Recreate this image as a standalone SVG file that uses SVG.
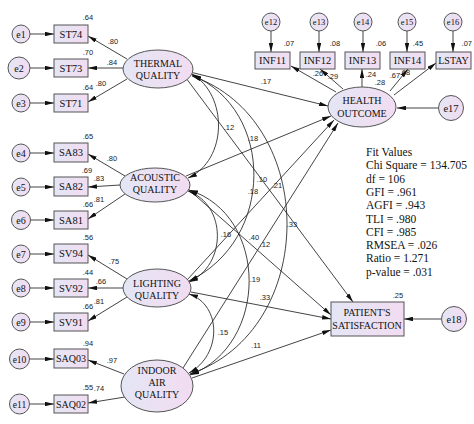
<svg xmlns="http://www.w3.org/2000/svg" width="474" height="424" viewBox="0 0 474 424">
<defs>
<linearGradient id="g" x1="0" y1="0" x2="1" y2="0">
<stop offset="0" stop-color="#e4e6f5"/>
<stop offset="1" stop-color="#f2dcf1"/>
</linearGradient>
<marker id="ah" viewBox="0 0 10 5" refX="10" refY="2.5" markerWidth="9" markerHeight="4.5" markerUnits="userSpaceOnUse" orient="auto-start-reverse">
<path d="M0,0 L10,2.5 L0,5 z" fill="#111"/>
</marker>
</defs>
<style>
.sh{fill:url(#g);stroke:#555;stroke-width:1}
.ln{fill:none;stroke:#222;stroke-width:0.85;marker-end:url(#ah)}
.cv{fill:none;stroke:#222;stroke-width:0.85;marker-start:url(#ah);marker-end:url(#ah)}
.t{font-family:"Liberation Serif","Times New Roman",serif;font-size:10px;fill:#111;text-anchor:middle}
.r{font-family:"Liberation Serif","Times New Roman",serif;font-size:10.5px;fill:#111;text-anchor:middle}
.e{font-family:"Liberation Serif","Times New Roman",serif;font-size:10px;fill:#111;text-anchor:middle}
.n{font-family:"Liberation Sans",Arial,sans-serif;font-size:7.5px;fill:#222;text-anchor:middle}
.f{font-family:"Liberation Serif","Times New Roman",serif;font-size:11.5px;fill:#111}
</style>
<rect width="474" height="424" fill="#fff"/>

<g id="connectors">
<path class="ln" d="M30,34 L54,34"/>
<path class="ln" d="M30,68 L54,68"/>
<path class="ln" d="M30,103 L54,103"/>
<path class="ln" d="M30,153 L54,153"/>
<path class="ln" d="M30,187 L54,187"/>
<path class="ln" d="M30,220 L54,220"/>
<path class="ln" d="M30,254 L54,254"/>
<path class="ln" d="M30,288 L54,288"/>
<path class="ln" d="M30,322 L54,322"/>
<path class="ln" d="M30,359 L54,359"/>
<path class="ln" d="M30,404 L54,404"/>
<path class="ln" d="M271,31 L271,52"/>
<path class="ln" d="M319,31 L319,52"/>
<path class="ln" d="M363,31 L363,52"/>
<path class="ln" d="M407,31 L407,52"/>
<path class="ln" d="M453,31 L453,52"/>
<path class="ln" d="M438,108 L397,108"/>
<path class="ln" d="M441,319 L404,319"/>
<path class="ln" d="M127,59 L88,36"/>
<path class="ln" d="M123,68 L88,68"/>
<path class="ln" d="M127,79 L88,102"/>
<path class="ln" d="M125,176 L88,154"/>
<path class="ln" d="M120,185 L88,187"/>
<path class="ln" d="M125,194 L88,219"/>
<path class="ln" d="M127,279 L88,255"/>
<path class="ln" d="M123,288 L88,288"/>
<path class="ln" d="M127,297 L88,321"/>
<path class="ln" d="M124,374 L88,360"/>
<path class="ln" d="M125,397 L88,403"/>
<path class="ln" d="M336,92 L291,66"/>
<path class="ln" d="M343,89 L320,69"/>
<path class="ln" d="M362,87 L362,69"/>
<path class="ln" d="M390,91 L408,69"/>
<path class="ln" d="M394,95 L436,63"/>
<path class="ln" d="M190,72 L328,106"/>
<path class="ln" d="M186,78 L353,302"/>
<path class="ln" d="M186,176 L331,116"/>
<path class="ln" d="M188,189 L331,315"/>
<path class="ln" d="M187,280 L334,120"/>
<path class="ln" d="M191,292 L331,319"/>
<path class="ln" d="M183,368 L338,123"/>
<path class="ln" d="M192,378 L331,330"/>
<path class="cv" d="M192,74 C228,95 228,160 188,178"/>
<path class="cv" d="M192,75 C275,110 275,240 189,281"/>
<path class="cv" d="M192,76 C319,120 319,330 190,374"/>
<path class="cv" d="M188,191 C227,205 227,265 189,282"/>
<path class="cv" d="M189,190 C269,215 269,345 190,375"/>
<path class="cv" d="M189,294 C222,305 222,355 189,373"/>
</g>

<g id="e1"><circle class="sh" cx="21" cy="34" r="9"/><text class="e" x="21" y="37.5">e1</text></g>
<g id="e2"><circle class="sh" cx="19" cy="68" r="11"/><text class="e" x="19" y="71.5">e2</text></g>
<g id="e3"><circle class="sh" cx="21" cy="103" r="9"/><text class="e" x="21" y="106.5">e3</text></g>
<g id="e4"><circle class="sh" cx="21" cy="153" r="9"/><text class="e" x="21" y="156.5">e4</text></g>
<g id="e5"><circle class="sh" cx="21" cy="187" r="9"/><text class="e" x="21" y="190.5">e5</text></g>
<g id="e6"><circle class="sh" cx="21" cy="220" r="9.5"/><text class="e" x="21" y="223.5">e6</text></g>
<g id="e7"><circle class="sh" cx="21" cy="254" r="9"/><text class="e" x="21" y="257.5">e7</text></g>
<g id="e8"><circle class="sh" cx="21" cy="288" r="9"/><text class="e" x="21" y="291.5">e8</text></g>
<g id="e9"><circle class="sh" cx="21" cy="322" r="9"/><text class="e" x="21" y="325.5">e9</text></g>
<g id="e10"><circle class="sh" cx="19.5" cy="359" r="10"/><text class="e" x="19.5" y="362.5" style="font-size:9.5px">e10</text></g>
<g id="e11"><circle class="sh" cx="19.5" cy="404" r="10"/><text class="e" x="19.5" y="407.5" style="font-size:9.5px">e11</text></g>
<g id="e12"><circle class="sh" cx="271" cy="22" r="9"/><text class="e" x="271" y="25" style="font-size:8.5px">e12</text></g>
<g id="e13"><circle class="sh" cx="319" cy="22" r="9"/><text class="e" x="319" y="25" style="font-size:8.5px">e13</text></g>
<g id="e14"><circle class="sh" cx="363" cy="22" r="9"/><text class="e" x="363" y="25" style="font-size:8.5px">e14</text></g>
<g id="e15"><circle class="sh" cx="407" cy="22" r="9"/><text class="e" x="407" y="25" style="font-size:8.5px">e15</text></g>
<g id="e16"><circle class="sh" cx="453" cy="22" r="9"/><text class="e" x="453" y="25" style="font-size:8.5px">e16</text></g>
<g id="e17"><circle class="sh" cx="451" cy="108" r="12.5"/><text class="e" x="451" y="111.5" style="font-size:10.5px">e17</text></g>
<g id="e18"><circle class="sh" cx="454" cy="319" r="12.5"/><text class="e" x="454" y="322.5" style="font-size:10.5px">e18</text></g>

<g id="ST74"><rect class="sh" x="54" y="25" width="34" height="18"/><text class="r" x="71" y="37.5">ST74</text></g>
<g id="ST73"><rect class="sh" x="54" y="59" width="34" height="18"/><text class="r" x="71" y="71.5">ST73</text></g>
<g id="ST71"><rect class="sh" x="54" y="94" width="34" height="18"/><text class="r" x="71" y="106.5">ST71</text></g>
<g id="SA83"><rect class="sh" x="54" y="143" width="34" height="19"/><text class="r" x="71" y="156">SA83</text></g>
<g id="SA82"><rect class="sh" x="54" y="177" width="34" height="19"/><text class="r" x="71" y="190">SA82</text></g>
<g id="SA81"><rect class="sh" x="54" y="211" width="34" height="18"/><text class="r" x="71" y="223.5">SA81</text></g>
<g id="SV94"><rect class="sh" x="54" y="244" width="34" height="19"/><text class="r" x="71" y="257">SV94</text></g>
<g id="SV92"><rect class="sh" x="54" y="279" width="34" height="18"/><text class="r" x="71" y="291.5">SV92</text></g>
<g id="SV91"><rect class="sh" x="54" y="313" width="34" height="18"/><text class="r" x="71" y="325.5">SV91</text></g>
<g id="SAQ03"><rect class="sh" x="54" y="349" width="34" height="19"/><text class="r" x="71" y="362" style="font-size:10px">SAQ03</text></g>
<g id="SAQ02"><rect class="sh" x="54" y="395" width="34" height="18"/><text class="r" x="71" y="407.5" style="font-size:10px">SAQ02</text></g>
<g id="INF11"><rect class="sh" x="255" y="52" width="35" height="17"/><text class="r" x="272.5" y="64">INF11</text></g>
<g id="INF12"><rect class="sh" x="300" y="52" width="35" height="17"/><text class="r" x="317.5" y="64">INF12</text></g>
<g id="INF13"><rect class="sh" x="345" y="52" width="35" height="17"/><text class="r" x="362.5" y="64">INF13</text></g>
<g id="INF14"><rect class="sh" x="390" y="52" width="35" height="17"/><text class="r" x="407.5" y="64">INF14</text></g>
<g id="LSTAY"><rect class="sh" x="436" y="52" width="35" height="17"/><text class="r" x="453.5" y="64" style="font-size:10px">LSTAY</text></g>

<g id="thermal"><ellipse class="sh" cx="158" cy="69" rx="35" ry="19"/><text class="t" x="158" y="67">THERMAL</text><text class="t" x="158" y="79">QUALITY</text></g>
<g id="acoustic"><ellipse class="sh" cx="155" cy="185" rx="35" ry="17"/><text class="t" x="155" y="181">ACOUSTIC</text><text class="t" x="155" y="193">QUALITY</text></g>
<g id="lighting"><ellipse class="sh" cx="157" cy="288" rx="34" ry="19"/><text class="t" x="157" y="286.5">LIGHTING</text><text class="t" x="157" y="298.5">QUALITY</text></g>
<g id="indoor"><ellipse class="sh" cx="157" cy="386" rx="36" ry="26"/><text class="t" x="157" y="374">INDOOR</text><text class="t" x="157" y="386">AIR</text><text class="t" x="157" y="398">QUALITY</text></g>
<g id="health"><ellipse class="sh" cx="362" cy="107" rx="34" ry="20"/><text class="t" x="362" y="104">HEALTH</text><text class="t" x="362" y="117">OUTCOME</text></g>
<g id="patient"><rect class="sh" x="331" y="302" width="73" height="34"/><text class="t" x="367" y="316">PATIENT'S</text><text class="t" x="367" y="328.5">SATISFACTION</text></g>

<g id="labels">
<text class="n" x="88" y="20">.64</text>
<text class="n" x="113" y="44">.80</text>
<text class="n" x="88" y="55">.70</text>
<text class="n" x="112" y="65">.84</text>
<text class="n" x="88" y="90">.64</text>
<text class="n" x="101" y="86">.80</text>
<text class="n" x="88" y="139">.65</text>
<text class="n" x="112" y="161">.80</text>
<text class="n" x="87" y="173">.69</text>
<text class="n" x="99" y="181">.83</text>
<text class="n" x="88" y="207">.66</text>
<text class="n" x="99" y="202">.81</text>
<text class="n" x="88" y="240">.56</text>
<text class="n" x="114" y="264">.75</text>
<text class="n" x="88" y="275">.44</text>
<text class="n" x="101" y="284">.66</text>
<text class="n" x="88" y="309">.66</text>
<text class="n" x="99" y="304">.81</text>
<text class="n" x="88" y="346">.94</text>
<text class="n" x="112" y="363">.97</text>
<text class="n" x="88" y="390">.55</text>
<text class="n" x="99" y="391">.74</text>
<text class="n" x="289" y="46">.07</text>
<text class="n" x="335" y="46">.08</text>
<text class="n" x="381" y="46">.06</text>
<text class="n" x="418" y="46">.45</text>
<text class="n" x="472" y="46" style="text-anchor:end">.07</text>
<text class="n" x="266" y="84">.17</text>
<text class="n" x="318" y="76">.26</text>
<text class="n" x="333" y="79">.29</text>
<text class="n" x="371" y="77">.24</text>
<text class="n" x="380" y="85">.28</text>
<text class="n" x="395" y="78">.67</text>
<text class="n" x="405" y="75">.68</text>
<text class="n" x="229" y="130">.12</text>
<text class="n" x="253" y="141">.18</text>
<text class="n" x="262" y="182">.10</text>
<text class="n" x="277" y="188">.21</text>
<text class="n" x="253" y="194">.18</text>
<text class="n" x="226" y="237">.16</text>
<text class="n" x="254" y="240">.40</text>
<text class="n" x="265" y="247">.12</text>
<text class="n" x="292" y="227">.33</text>
<text class="n" x="255" y="282">.19</text>
<text class="n" x="265" y="300">.33</text>
<text class="n" x="223" y="335">.15</text>
<text class="n" x="256" y="348">.11</text>
<text class="n" x="398" y="298">.25</text>
</g>

<g id="fit">
<text class="f" x="366" y="156">Fit  Values</text>
<text class="f" x="366" y="169.3">Chi Square = 134.705</text>
<text class="f" x="366" y="182.6">df = 106</text>
<text class="f" x="366" y="195.9">GFI = .961</text>
<text class="f" x="366" y="209.2">AGFI = .943</text>
<text class="f" x="366" y="222.5">TLI = .980</text>
<text class="f" x="366" y="235.8">CFI = .985</text>
<text class="f" x="366" y="249.1">RMSEA = .026</text>
<text class="f" x="366" y="262.4">Ratio = 1.271</text>
<text class="f" x="366" y="275.7">p-value = .031</text>
</g>
</svg>
